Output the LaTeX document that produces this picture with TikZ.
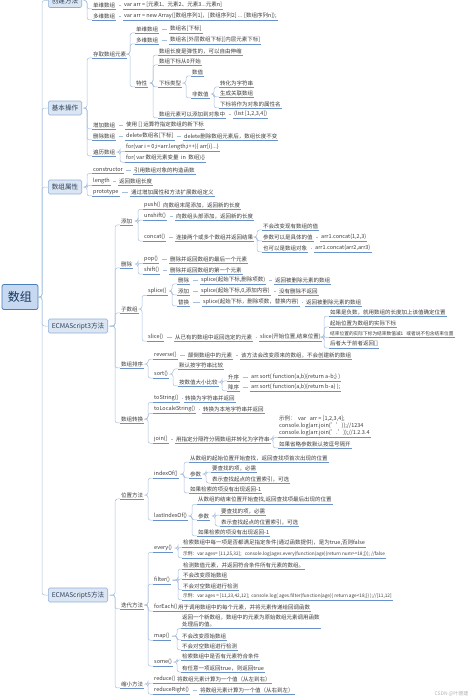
\documentclass[tikz,border=0pt]{standalone}
\usepackage{fontspec}
\setmainfont{Noto Sans CJK SC}
\usepackage{tikz}
\usetikzlibrary{positioning}

\definecolor{TxtGray}{HTML}{3C3C3C}
\definecolor{ULine}{HTML}{6A92C9}
\definecolor{Conn}{HTML}{A6BEDD}
\definecolor{BoxFill}{HTML}{DCE6F2}
\definecolor{BoxLine}{HTML}{8DB0DA}
\definecolor{MainTxt}{HTML}{2B3F5C}
\definecolor{RootFill}{HTML}{C6D9F0}
\definecolor{RootLine}{HTML}{4A7EBB}
\definecolor{RootTxt}{HTML}{17375E}

\begin{document}
\begin{tikzpicture}[x=1pt, y=-1pt]
	\tikzstyle{Root}   = [draw=RootLine, fill=RootFill, rounded corners=2pt, line width=0.8pt, minimum width=36pt, minimum height=25pt, font=\fontsize{12}{12}\selectfont, text=RootTxt]
	\tikzstyle{Main}   = [anchor=west, draw=BoxLine, fill=BoxFill, rounded corners=1.5pt, line width=0.6pt, minimum height=14pt, inner xsep=3.5pt, font=\fontsize{6.6}{7}\selectfont, text=MainTxt]
	\tikzstyle{Under}  = [draw=ULine, line width=0.8pt]
	\tikzstyle{Topic}  = [anchor=west, inner xsep=1pt, inner ysep=1.2pt, align=left, font=\fontsize{5.5}{7}\selectfont, text=TxtGray, append after command={(\tikzlastnode.south west) edge[Under] (\tikzlastnode.south east)}]
	\tikzstyle{Small}  = [font=\fontsize{4.7}{7}\selectfont]
	\tikzstyle{Branch} = [draw=Conn, line width=0.5pt, rounded corners=2.5pt, shorten <=1.5pt]
	\tikzstyle{Link}   = [draw=Conn, line width=0.5pt, shorten <=2.5pt, shorten >=2.5pt]

	\useasboundingbox (0,0) rectangle (474,699);

	% root and main branches
	\node (r) at (20, 297) [Root] {数组};
	\node (m1) at (48, 0.5) [Main] {创建方法};
	\node (m2) at (48, 108) [Main] {基本操作};
	\node (m3) at (48, 187) [Main] {数组属性};
	\node (m4) at (48, 326) [Main] {ECMAScript3方法};
	\node (m5) at (48, 595) [Main] {ECMAScript5方法};

	\draw [Branch] (r.east) -| ([xshift=-6pt]m1.west) -- (m1.west);
	\draw [Branch] (r.east) -| ([xshift=-6pt]m2.west) -- (m2.west);
	\draw [Branch] (r.east) -| ([xshift=-6pt]m3.west) -- (m3.west);
	\draw [Branch] (r.east) -| ([xshift=-6pt]m4.west) -- (m4.west);
	\draw [Branch] (r.east) -| ([xshift=-6pt]m5.west) -- (m5.west);

	% create
	\node (a1) at (92, 5) [Topic] {单维数组};
	\node (a1v) at (123, 5) [Topic] {var arr = [元素1、元素2、元素3...元素n]};
	\node (a2) at (92, 16) [Topic] {多维数组};
	\node (a2v) at (123, 16) [Topic] {var arr = new Array([数组序列1]，[数组序列2] ... [数组序列n]);};

	\draw [Branch] (m1.east) -| ([xshift=-5pt]a1.south west) -- (a1.south west);
	\draw [Branch] (m1.east) -| ([xshift=-5pt]a2.south west) -- (a2.south west);
	\draw [Link] (a1) -- (a1v);
	\draw [Link] (a2) -- (a2v);

	% basic operations
	\node (b1) at (92, 54) [Topic] {存取数组元素};
	\node (b11) at (135, 29) [Topic] {单维数组};
	\node (b11v) at (169, 29) [Topic] {数组名[下标]};
	\node (b12) at (135, 40) [Topic] {多维数组};
	\node (b12v) at (169, 40) [Topic] {数组名[外层数组下标][内层元素下标]};
	\node (b13) at (135, 83) [Topic] {特性};
	\node (b131) at (158, 51) [Topic] {数组长度是弹性的，可以自由伸缩};
	\node (b132) at (158, 61) [Topic] {数组下标从0开始};
	\node (b133) at (158, 83) [Topic] {下标类型};
	\node (b134) at (158, 114) [Topic] {数组元素可以添加到对象中};
	\node (b134v) at (233, 114) [Topic] {(list [1,2,3,4])};
	\node (b1331) at (191, 72) [Topic] {数值};
	\node (b1332) at (191, 94) [Topic] {非数值};
	\node (b13321) at (219, 83) [Topic] {转化为字符串};
	\node (b13322) at (219, 93) [Topic] {生成关联数组};
	\node (b13323) at (219, 104) [Topic] {下标将作为对象的属性名};
	\node (b2) at (92, 125) [Topic] {增加数组};
	\node (b2v) at (125, 125) [Topic] {使用 [] 运算符指定数组的新下标};
	\node (b3) at (92, 136) [Topic] {删除数组};
	\node (b3v) at (125, 136) [Topic] {delete数组名[下标]};
	\node (b3w) at (183, 136) [Topic] {delete删除数组元素后，数组长度不变};
	\node (b4) at (92, 152) [Topic] {遍历数组};
	\node (b41) at (125, 147) [Topic] {for(var i = 0;i<arr.length;i++)\{ arr[i]...\}};
	\node (b42) at (125, 158) [Topic] {for( var 数组元素变量~~in~~数组)\{\}};

	\draw [Branch] (m2.east) -| ([xshift=-5pt]b1.south west) -- (b1.south west);
	\draw [Branch] (m2.east) -| ([xshift=-5pt]b2.south west) -- (b2.south west);
	\draw [Branch] (m2.east) -| ([xshift=-5pt]b3.south west) -- (b3.south west);
	\draw [Branch] (m2.east) -| ([xshift=-5pt]b4.south west) -- (b4.south west);
	\draw [Branch] (b1.east) -| ([xshift=-5pt]b11.south west) -- (b11.south west);
	\draw [Branch] (b1.east) -| ([xshift=-5pt]b12.south west) -- (b12.south west);
	\draw [Branch] (b1.east) -| ([xshift=-5pt]b13.south west) -- (b13.south west);
	\draw [Link] (b11) -- (b11v);
	\draw [Link] (b12) -- (b12v);
	\draw [Branch] (b13.east) -| ([xshift=-5pt]b131.south west) -- (b131.south west);
	\draw [Branch] (b13.east) -| ([xshift=-5pt]b132.south west) -- (b132.south west);
	\draw [Branch] (b13.east) -| ([xshift=-5pt]b133.south west) -- (b133.south west);
	\draw [Branch] (b13.east) -| ([xshift=-5pt]b134.south west) -- (b134.south west);
	\draw [Link] (b134) -- (b134v);
	\draw [Branch] (b133.east) -| ([xshift=-5pt]b1331.south west) -- (b1331.south west);
	\draw [Branch] (b133.east) -| ([xshift=-5pt]b1332.south west) -- (b1332.south west);
	\draw [Branch] (b1332.east) -| ([xshift=-5pt]b13321.south west) -- (b13321.south west);
	\draw [Branch] (b1332.east) -| ([xshift=-5pt]b13322.south west) -- (b13322.south west);
	\draw [Branch] (b1332.east) -| ([xshift=-5pt]b13323.south west) -- (b13323.south west);
	\draw [Link] (b2) -- (b2v);
	\draw [Link] (b3) -- (b3v);
	\draw [Link] (b3v) -- (b3w);
	\draw [Branch] (b4.east) -| ([xshift=-5pt]b41.south west) -- (b41.south west);
	\draw [Branch] (b4.east) -| ([xshift=-5pt]b42.south west) -- (b42.south west);

	% properties
	\node (p1) at (92, 170) [Topic] {constructor};
	\node (p1v) at (133, 170) [Topic] {引用数组对象的构造函数};
	\node (p2) at (92, 181) [Topic] {length};
	\node (p2v) at (118, 181) [Topic] {返回数组长度};
	\node (p3) at (92, 192) [Topic] {prototype};
	\node (p3v) at (130, 192) [Topic] {通过增加属性和方法扩展数组定义};

	\draw [Branch] (m3.east) -| ([xshift=-5pt]p1.south west) -- (p1.south west);
	\draw [Branch] (m3.east) -| ([xshift=-5pt]p2.south west) -- (p2.south west);
	\draw [Branch] (m3.east) -| ([xshift=-5pt]p3.south west) -- (p3.south west);
	\draw [Link] (p1) -- (p1v);
	\draw [Link] (p2) -- (p2v);
	\draw [Link] (p3) -- (p3v);

	% ECMAScript3
	\node (e1) at (120, 221) [Topic] {添加};
	\node (e11) at (143, 205) [Topic] {push()};
	\node (e11v) at (162, 205) [Topic] {向数组末尾添加，返回新的长度};
	\node (e12) at (143, 216) [Topic] {unshift()};
	\node (e12v) at (175, 216) [Topic] {向数组头部添加，返回新的长度};
	\node (e13) at (143, 237) [Topic] {concat()};
	\node (e13v) at (175, 237) [Topic] {连接两个或多个数组并返回结果};
	\node (e131) at (262, 226) [Topic] {不会改变现有数组的值};
	\node (e132) at (262, 237) [Topic] {参数可以是具体的值};
	\node (e132v) at (320, 237) [Topic] {arr1.concat(1,2,3)};
	\node (e133) at (262, 248) [Topic] {也可以是数组对象};
	\node (e133v) at (314, 248) [Topic] {arr1.concat(arr2,arr3)};

	\node (e2) at (120, 264) [Topic] {删除};
	\node (e21) at (143, 259) [Topic] {pop()};
	\node (e21v) at (169, 259) [Topic] {删除并返回数组的最后一个元素};
	\node (e22) at (143, 270) [Topic] {shift()};
	\node (e22v) at (169, 270) [Topic] {删除并返回数组的第一个元素};

	\node (e3) at (120, 309) [Topic] {子数组};
	\node (e31) at (147, 291) [Topic] {splice()};
	\node (e311) at (177, 280) [Topic] {删除};
	\node (e311v) at (200, 280) [Topic] {splice(起始下标,删除项数)};
	\node (e311w) at (274, 280) [Topic] {返回被删除元素的数组};
	\node (e312) at (177, 291) [Topic] {添加};
	\node (e312v) at (200, 291) [Topic] {splice(起始下标,0,添加内容)};
	\node (e312w) at (278, 291) [Topic] {没有删除不返回};
	\node (e313) at (177, 302) [Topic] {替换};
	\node (e313v) at (202, 302) [Topic] {splice(起始下标，删除项数，替换内容)};
	\node (e313w) at (305, 302) [Topic] {返回被删除元素的数组};
	\node (e32) at (147, 337) [Topic] {slice()};
	\node (e32v) at (174, 337) [Topic] {从已有的数组中返回选定的元素};
	\node (e32w) at (259, 337) [Topic] {slice(开始位置,结束位置)};
	\node (e321) at (329, 312) [Topic] {如果是负数，就用数组的长度加上该值确定位置};
	\node (e322) at (329, 323) [Topic] {起始位置为数组的实际下标};
	\node (e323) at (329, 334) [Topic, Small] {结束位置的实际下标为结束数值减1~~~或者说不包含结束位置};
	\node (e324) at (329, 344) [Topic] {后者大于前者返回[]};

	\node (e4) at (120, 364) [Topic] {数组排序};
	\node (e41) at (153, 355) [Topic] {reverse()};
	\node (e41v) at (187, 355) [Topic] {颠倒数组中的元素};
	\node (e41w) at (240, 355) [Topic] {该方法会改变原来的数组，不会创建新的数组};
	\node (e42) at (153, 374) [Topic] {sort()};
	\node (e421) at (178, 365) [Topic] {默认按字符串比较};
	\node (e422) at (178, 382) [Topic] {按数值大小比较};
	\node (e4221) at (227, 377) [Topic] {升序};
	\node (e4221v) at (250, 377) [Topic] {arr.sort( function(a,b)\{return a-b;\} )};
	\node (e4222) at (227, 387) [Topic] {降序};
	\node (e4222v) at (250, 387) [Topic] {arr.sort( function(a,b)\{return b-a\} );};

	\node (e5) at (120, 419) [Topic] {数组转换};
	\node (e51) at (153, 398) [Topic] {toString()};
	\node (e51v) at (184, 398) [Topic] {转换为字符串并返回};
	\node (e52) at (153, 409) [Topic] {toLocaleString()};
	\node (e52v) at (202, 409) [Topic] {转换为本地字符串并返回};
	\node (e53) at (153, 439) [Topic] {join()};
	\node (e53v) at (175, 439) [Topic] {用指定分隔符分隔数组并转化为字符串};
	\node (e531) at (278, 426) [Topic] {示例：~~var~~~arr = [1,2,3,4];\\console.log(arr.join('{}'));//1234\\console.log(arr.join('.'));//1.2.3.4};
	\node (e532) at (278, 444) [Topic] {如果省略参数默认按逗号隔开};

	\draw [Branch] (m4.east) -| ([xshift=-5pt]e1.south west) -- (e1.south west);
	\draw [Branch] (m4.east) -| ([xshift=-5pt]e2.south west) -- (e2.south west);
	\draw [Branch] (m4.east) -| ([xshift=-5pt]e3.south west) -- (e3.south west);
	\draw [Branch] (m4.east) -| ([xshift=-5pt]e4.south west) -- (e4.south west);
	\draw [Branch] (m4.east) -| ([xshift=-5pt]e5.south west) -- (e5.south west);
	\draw [Branch] (e1.east) -| ([xshift=-5pt]e11.south west) -- (e11.south west);
	\draw [Branch] (e1.east) -| ([xshift=-5pt]e12.south west) -- (e12.south west);
	\draw [Branch] (e1.east) -| ([xshift=-5pt]e13.south west) -- (e13.south west);
	\draw [Link] (e11) -- (e11v);
	\draw [Link] (e12) -- (e12v);
	\draw [Link] (e13) -- (e13v);
	\draw [Branch] (e13v.east) -| ([xshift=-5pt]e131.south west) -- (e131.south west);
	\draw [Branch] (e13v.east) -| ([xshift=-5pt]e132.south west) -- (e132.south west);
	\draw [Branch] (e13v.east) -| ([xshift=-5pt]e133.south west) -- (e133.south west);
	\draw [Link] (e132) -- (e132v);
	\draw [Link] (e133) -- (e133v);
	\draw [Branch] (e2.east) -| ([xshift=-5pt]e21.south west) -- (e21.south west);
	\draw [Branch] (e2.east) -| ([xshift=-5pt]e22.south west) -- (e22.south west);
	\draw [Link] (e21) -- (e21v);
	\draw [Link] (e22) -- (e22v);
	\draw [Branch] (e3.east) -| ([xshift=-5pt]e31.south west) -- (e31.south west);
	\draw [Branch] (e3.east) -| ([xshift=-5pt]e32.south west) -- (e32.south west);
	\draw [Branch] (e31.east) -| ([xshift=-5pt]e311.south west) -- (e311.south west);
	\draw [Branch] (e31.east) -| ([xshift=-5pt]e312.south west) -- (e312.south west);
	\draw [Branch] (e31.east) -| ([xshift=-5pt]e313.south west) -- (e313.south west);
	\draw [Link] (e311) -- (e311v);
	\draw [Link] (e311v) -- (e311w);
	\draw [Link] (e312) -- (e312v);
	\draw [Link] (e312v) -- (e312w);
	\draw [Link] (e313) -- (e313v);
	\draw [Link] (e313v) -- (e313w);
	\draw [Link] (e32) -- (e32v);
	\draw [Link] (e32v) -- (e32w);
	\draw [Branch] (e32w.east) -| ([xshift=-5pt]e321.south west) -- (e321.south west);
	\draw [Branch] (e32w.east) -| ([xshift=-5pt]e322.south west) -- (e322.south west);
	\draw [Branch] (e32w.east) -| ([xshift=-5pt]e323.south west) -- (e323.south west);
	\draw [Branch] (e32w.east) -| ([xshift=-5pt]e324.south west) -- (e324.south west);
	\draw [Branch] (e4.east) -| ([xshift=-5pt]e41.south west) -- (e41.south west);
	\draw [Branch] (e4.east) -| ([xshift=-5pt]e42.south west) -- (e42.south west);
	\draw [Link] (e41) -- (e41v);
	\draw [Link] (e41v) -- (e41w);
	\draw [Branch] (e42.east) -| ([xshift=-5pt]e421.south west) -- (e421.south west);
	\draw [Branch] (e42.east) -| ([xshift=-5pt]e422.south west) -- (e422.south west);
	\draw [Branch] (e422.east) -| ([xshift=-5pt]e4221.south west) -- (e4221.south west);
	\draw [Branch] (e422.east) -| ([xshift=-5pt]e4222.south west) -- (e4222.south west);
	\draw [Link] (e4221) -- (e4221v);
	\draw [Link] (e4222) -- (e4222v);
	\draw [Branch] (e5.east) -| ([xshift=-5pt]e51.south west) -- (e51.south west);
	\draw [Branch] (e5.east) -| ([xshift=-5pt]e52.south west) -- (e52.south west);
	\draw [Branch] (e5.east) -| ([xshift=-5pt]e53.south west) -- (e53.south west);
	\draw [Link] (e51) -- (e51v);
	\draw [Link] (e52) -- (e52v);
	\draw [Link] (e53) -- (e53v);
	\draw [Branch] (e53v.east) -| ([xshift=-5pt]e531.south west) -- (e531.south west);
	\draw [Branch] (e53v.east) -| ([xshift=-5pt]e532.south west) -- (e532.south west);

	% ECMAScript5
	\node (f1) at (120, 495) [Topic] {位置方法};
	\node (f11) at (153, 474) [Topic] {indexOf()};
	\node (f111) at (189, 458) [Topic] {从数组的起始位置开始查找，返回查找项首次出现的位置};
	\node (f112) at (189, 474) [Topic] {参数};
	\node (f1121) at (211, 468) [Topic] {要查找的项，必需};
	\node (f1122) at (211, 479) [Topic] {表示查找起点的位置索引，可选};
	\node (f113) at (189, 489) [Topic] {如果检索的项没有出现返回-1};
	\node (f12) at (153, 516) [Topic] {lastIndexOf()};
	\node (f121) at (197, 500) [Topic] {从数组的结束位置开始查找,返回查找项最后出现的位置};
	\node (f122) at (197, 516) [Topic] {参数};
	\node (f1221) at (220, 511) [Topic] {要查找的项，必需};
	\node (f1222) at (220, 522) [Topic] {表示查找起点的位置索引，可选};
	\node (f123) at (197, 532) [Topic] {如果检索的项没有出现返回-1};

	\node (f2) at (120, 605) [Topic] {迭代方法};
	\node (f21) at (153, 548) [Topic] {every()};
	\node (f211) at (182, 543) [Topic] {检索数组中每一项是否都满足指定条件(通过函数提供)，是为true,否则false};
	\node (f212) at (182, 554) [Topic, Small] {示例：var ages= [11,25,32];~~~console.log(ages.every(function(age)\{return num>=18;\})); //false};
	\node (f22) at (153, 580) [Topic] {filter()};
	\node (f221) at (182, 565) [Topic] {检测数值元素，并返回符合条件所有元素的数组。};
	\node (f222) at (182, 575) [Topic] {不会改变原始数组};
	\node (f223) at (182, 586) [Topic] {不会对空数组进行检测};
	\node (f224) at (182, 596) [Topic, Small] {示例：var ages = [11,23,42,12];~~console.log( ages.filter(function(age)\{ return age<18;\}) );//[11,12]};
	\node (f23) at (153, 607) [Topic] {forEach()};
	\node (f23v) at (177, 607) [Topic] {用于调用数组中的每个元素，并将元素传递给回调函数};
	\node (f24) at (153, 636) [Topic] {map()};
	\node (f241) at (181, 621) [Topic] {返回一个新数组，数组中的元素为原始数组元素调用函数\\处理后的值。};
	\node (f242) at (181, 636) [Topic] {不会改变原始数组};
	\node (f243) at (181, 646) [Topic] {不会对空数组进行检测};
	\node (f25) at (153, 662) [Topic] {some()};
	\node (f251) at (181, 656) [Topic] {检索数组中是否有元素符合条件};
	\node (f252) at (181, 668) [Topic] {有任意一项返回true，则返回true};

	\node (f3) at (120, 684) [Topic] {缩小方法};
	\node (f31) at (153, 679) [Topic] {reduce()};
	\node (f31v) at (176, 679) [Topic] {将数组元素计算为一个值（从左到右）};
	\node (f32) at (153, 690) [Topic] {reduceRight()};
	\node (f32v) at (199, 690) [Topic] {将数组元素计算为一个值（从右到左）};

	\draw [Branch] (m5.east) -| ([xshift=-5pt]f1.south west) -- (f1.south west);
	\draw [Branch] (m5.east) -| ([xshift=-5pt]f2.south west) -- (f2.south west);
	\draw [Branch] (m5.east) -| ([xshift=-5pt]f3.south west) -- (f3.south west);
	\draw [Branch] (f1.east) -| ([xshift=-5pt]f11.south west) -- (f11.south west);
	\draw [Branch] (f1.east) -| ([xshift=-5pt]f12.south west) -- (f12.south west);
	\draw [Branch] (f11.east) -| ([xshift=-5pt]f111.south west) -- (f111.south west);
	\draw [Branch] (f11.east) -| ([xshift=-5pt]f112.south west) -- (f112.south west);
	\draw [Branch] (f11.east) -| ([xshift=-5pt]f113.south west) -- (f113.south west);
	\draw [Branch] (f112.east) -| ([xshift=-5pt]f1121.south west) -- (f1121.south west);
	\draw [Branch] (f112.east) -| ([xshift=-5pt]f1122.south west) -- (f1122.south west);
	\draw [Branch] (f12.east) -| ([xshift=-5pt]f121.south west) -- (f121.south west);
	\draw [Branch] (f12.east) -| ([xshift=-5pt]f122.south west) -- (f122.south west);
	\draw [Branch] (f12.east) -| ([xshift=-5pt]f123.south west) -- (f123.south west);
	\draw [Branch] (f122.east) -| ([xshift=-5pt]f1221.south west) -- (f1221.south west);
	\draw [Branch] (f122.east) -| ([xshift=-5pt]f1222.south west) -- (f1222.south west);
	\draw [Branch] (f2.east) -| ([xshift=-5pt]f21.south west) -- (f21.south west);
	\draw [Branch] (f2.east) -| ([xshift=-5pt]f22.south west) -- (f22.south west);
	\draw [Branch] (f2.east) -| ([xshift=-5pt]f23.south west) -- (f23.south west);
	\draw [Branch] (f2.east) -| ([xshift=-5pt]f24.south west) -- (f24.south west);
	\draw [Branch] (f2.east) -| ([xshift=-5pt]f25.south west) -- (f25.south west);
	\draw [Branch] (f21.east) -| ([xshift=-4pt]f211.south west) -- (f211.south west);
	\draw [Branch] (f21.east) -| ([xshift=-4pt]f212.south west) -- (f212.south west);
	\draw [Branch] (f22.east) -| ([xshift=-4pt]f221.south west) -- (f221.south west);
	\draw [Branch] (f22.east) -| ([xshift=-4pt]f222.south west) -- (f222.south west);
	\draw [Branch] (f22.east) -| ([xshift=-4pt]f223.south west) -- (f223.south west);
	\draw [Branch] (f22.east) -| ([xshift=-4pt]f224.south west) -- (f224.south west);
	\draw [Link] (f23) -- (f23v);
	\draw [Branch] (f24.east) -| ([xshift=-4pt]f241.south west) -- (f241.south west);
	\draw [Branch] (f24.east) -| ([xshift=-4pt]f242.south west) -- (f242.south west);
	\draw [Branch] (f24.east) -| ([xshift=-4pt]f243.south west) -- (f243.south west);
	\draw [Branch] (f25.east) -| ([xshift=-4pt]f251.south west) -- (f251.south west);
	\draw [Branch] (f25.east) -| ([xshift=-4pt]f252.south west) -- (f252.south west);
	\draw [Branch] (f3.east) -| ([xshift=-5pt]f31.south west) -- (f31.south west);
	\draw [Branch] (f3.east) -| ([xshift=-5pt]f32.south west) -- (f32.south west);
	\draw [Link] (f31) -- (f31v);
	\draw [Link] (f32) -- (f32v);

	\node (wm) at (472, 694) [anchor=east, font=\fontsize{5}{5}\selectfont, text=black!30] {CSDN @叶德建};
\end{tikzpicture}
\end{document}
